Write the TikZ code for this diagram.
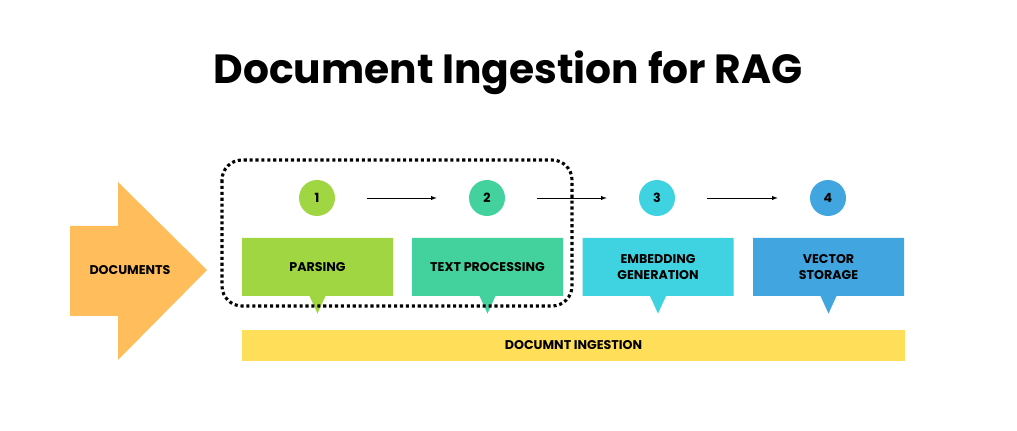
\documentclass[tikz,border=0pt]{standalone}
\usepackage{fontspec}
\setmainfont{Poppins}
\usetikzlibrary{positioning,shapes.callouts}
\definecolor{docorange}{HTML}{FFBD5B}
\definecolor{parsegreen}{HTML}{A1D643}
\definecolor{textgreen}{HTML}{43D19E}
\definecolor{embedcyan}{HTML}{3FD3E1}
\definecolor{storeblue}{HTML}{41A6DF}
\definecolor{baryellow}{HTML}{FFDE59}
\tikzset{
  step/.style={rectangle callout, fill=#1, minimum width=151*0.025cm, minimum height=58*0.025cm,
    callout relative pointer={(0cm,-0.44cm)}, callout pointer width=0.4cm,
    font=\fontsize{9}{11}\selectfont\bfseries, align=center},
  num/.style={circle, fill=#1, minimum size=36*0.025cm, inner sep=0pt, font=\fontsize{9}{11}\selectfont\bfseries},
  flow/.style={->, >=latex, thin}
}
\begin{document}
\begin{tikzpicture}[x=0.025cm, y=-0.025cm]
        \useasboundingbox (0,0) rectangle (1017,431);
        % title
        \node (title) at (508,73) {\fontsize{29}{35}\selectfont\bfseries Document Ingestion for RAG};
        
        % documents arrow
        \fill[docorange] (70,226) -- (118,226) -- (118,182) -- (207,270) -- (118,360) -- (118,316) -- (70,316) -- cycle;
        \node[font=\fontsize{9}{11}\selectfont\bfseries] (docs) at (130,270) {DOCUMENTS};
        
        % steps
        \node[step=parsegreen] (parse) at (317.5,267) {PARSING};
        \node[step=textgreen] (textproc) at (487.5,267) {TEXT PROCESSING};
        \node[step=embedcyan] (embed) at (658,267) {EMBEDDING\\GENERATION};
        \node[step=storeblue] (store) at (828.5,267) {VECTOR\\STORAGE};
        
        % numbers
        \node[num=parsegreen] (n1) at (317,198) {1};
        \node[num=textgreen] (n2) at (487,198) {2};
        \node[num=embedcyan] (n3) at (657,198) {3};
        \node[num=storeblue] (n4) at (828,198) {4};
        \draw[flow] ([xshift=32*0.025cm]n1.east) -- ([xshift=-32*0.025cm]n2.west);
        \draw[flow] ([xshift=32*0.025cm]n2.east) -- ([xshift=-32*0.025cm]n3.west);
        \draw[flow] ([xshift=32*0.025cm]n3.east) -- ([xshift=-32*0.025cm]n4.west);
        
        % dotted group
        \draw[line width=2.2pt, dotted, rounded corners=20*0.025cm] (222,160) rectangle (572,306);
        
        % ingestion bar
        \node[fill=baryellow, minimum width=663*0.025cm, minimum height=31*0.025cm,
          font=\fontsize{9}{11}\selectfont\bfseries] (bar) at (573.5,345) {DOCUMNT INGESTION};
    \end{tikzpicture}
\end{document}
